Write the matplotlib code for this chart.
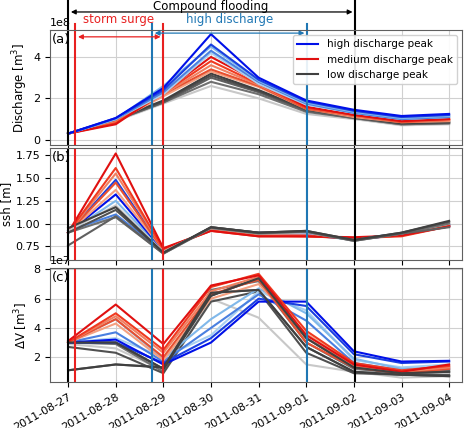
import matplotlib
matplotlib.use("Agg")
import matplotlib.pyplot as plt
import numpy as np

dates = ["2011-08-27","2011-08-28","2011-08-29","2011-08-30","2011-08-31",
         "2011-09-01","2011-09-02","2011-09-03","2011-09-04"]

# Discharge (x1e8 m3)
q_high = [[0.3,1.05,2.5,5.1,3.0,1.9,1.45,1.15,1.25],
          [0.3,1.05,2.4,4.6,2.9,1.85,1.4,1.1,1.2],
          [0.3,1.0,2.6,4.5,2.85,1.8,1.35,1.05,1.15],
          [0.3,1.0,2.3,4.3,2.8,1.75,1.3,1.0,1.1],
          [0.3,1.0,2.2,4.2,2.7,1.7,1.3,1.0,1.1]]
q_med = [[0.3,0.75,2.3,4.0,2.8,1.6,1.2,0.9,1.0],
         [0.3,0.8,2.25,3.8,2.7,1.55,1.2,0.9,1.0],
         [0.3,0.85,2.2,3.6,2.65,1.55,1.15,0.9,0.95],
         [0.3,0.9,2.2,3.4,2.6,1.5,1.15,0.85,0.95],
         [0.3,0.9,2.1,3.3,2.55,1.5,1.1,0.85,0.9]]
q_low = [[0.3,1.0,1.9,3.2,2.4,1.5,1.1,0.8,0.85],
         [0.3,1.0,1.85,3.1,2.35,1.45,1.1,0.8,0.85],
         [0.3,0.95,1.8,3.0,2.3,1.4,1.05,0.75,0.8],
         [0.3,0.95,1.8,2.8,2.2,1.35,1.05,0.75,0.8],
         [0.3,0.9,1.75,2.6,2.0,1.25,1.0,0.7,0.75]]
# ssh (m)
s_high = [[0.9,1.32,0.70,0.94,0.89,0.88,0.83,0.88,0.98],
          [0.9,1.48,0.71,0.93,0.88,0.87,0.83,0.87,0.97],
          [0.9,1.25,0.70,0.94,0.89,0.88,0.82,0.88,0.98],
          [0.92,1.1,0.69,0.95,0.90,0.89,0.83,0.89,0.99],
          [0.92,1.07,0.69,0.95,0.90,0.89,0.83,0.89,0.99]]
s_med = [[0.9,1.77,0.73,0.92,0.86,0.86,0.85,0.87,0.97],
         [0.9,1.61,0.72,0.92,0.86,0.86,0.84,0.86,0.97],
         [0.9,1.55,0.72,0.93,0.87,0.87,0.84,0.87,0.98],
         [0.9,1.45,0.71,0.93,0.87,0.86,0.84,0.87,0.98],
         [0.9,1.37,0.71,0.93,0.87,0.87,0.84,0.87,0.98]]
s_low = [[0.95,1.18,0.68,0.96,0.90,0.92,0.82,0.90,1.03],
         [0.9,1.15,0.68,0.96,0.90,0.92,0.82,0.90,1.02],
         [0.76,1.08,0.67,0.96,0.90,0.91,0.81,0.89,0.96],
         [0.9,1.07,0.67,0.95,0.89,0.91,0.81,0.89,1.0],
         [0.92,1.2,0.69,0.95,0.89,0.90,0.82,0.89,1.0]]
# Delta V (x1e7 m3)
v_high = [[3.0,3.2,1.5,3.0,5.8,5.8,2.4,1.7,1.75],
          [3.0,3.0,1.6,3.3,6.0,5.5,2.2,1.6,1.7],
          [3.0,4.6,1.9,4.6,6.7,5.0,1.9,1.2,1.3],
          [3.0,3.7,1.7,4.0,6.3,4.5,1.6,1.1,1.2],
          [3.0,3.3,2.0,3.5,6.5,5.2,1.8,1.3,1.5]]
v_med = [[3.1,5.6,2.9,6.9,7.6,3.5,1.5,1.0,1.5],
         [3.0,5.0,2.5,6.8,7.7,3.8,1.6,1.1,1.4],
         [3.0,4.8,2.3,6.5,7.5,3.3,1.4,1.0,1.3],
         [3.0,4.6,2.0,6.3,7.3,3.0,1.3,0.9,1.2],
         [3.0,4.3,1.8,6.0,7.0,3.6,1.5,1.0,1.3]]
v_low = [[3.0,3.0,1.2,6.2,7.4,3.3,1.3,0.9,1.0],
         [2.7,2.3,0.9,5.8,6.5,2.3,0.9,0.8,0.8],
         [1.1,1.5,1.3,6.4,6.6,2.7,1.0,0.8,0.7],
         [3.0,2.9,1.0,6.6,7.2,3.0,1.2,0.9,1.1],
         [2.9,2.6,1.1,6.0,4.7,1.5,1.0,0.6,0.7]]

blues = ['#0010e8', '#1a40e0', '#80b8ea', '#4a80e0', '#a8d0f0']
reds = ['#e01010', '#f03a20', '#f08060', '#e85030', '#f5a080']
greys = ['#404040', '#505050', '#606060', '#707070', '#c8c8c8']

x = np.arange(len(dates))
fig = plt.figure(figsize=(4.74, 4.28), dpi=100)
L, W = 50/474, 412/474
def pos(t, b):
    return [L, 1-b/428, W, (b-t)/428]
axa = fig.add_axes(pos(30, 145))
axb = fig.add_axes(pos(148, 260))
axc = fig.add_axes(pos(268, 382))

def draw(ax, groups, scale):
    for data, cols in groups:
        for i in reversed(range(len(data))):
            ax.plot(x, np.array(data[i])*scale, color=cols[i], lw=1.5)

draw(axa, [(q_low, greys), (q_med, reds), (q_high, blues)], 1e8)
draw(axb, [(s_high, blues), (s_med, reds), (s_low, greys)], 1)
draw(axc, [(v_low, greys), (v_high, blues), (v_med, reds)], 1e7)
axc.plot(x, np.array(v_low[0])*1e7, color=greys[0], lw=1.5)
axc.plot(x, np.array(v_low[2])*1e7, color=greys[0], lw=1.5)

vl = [(0, 'black'), (6.03, 'black'), (0.15, '#e82020'), (2.0, '#e82020'),
      (1.76, '#1f77b4'), (5.02, '#1f77b4')]
for ax in (axa, axb, axc):
    ax.set_xlim(-0.38, 8.27)
    ax.grid(True, color='#d0d0d0', lw=0.8)
    ax.set_xticks(x)
    for xv, c in vl:
        ax.axvline(xv, color=c, lw=1.5)
    for s in ax.spines.values():
        s.set_color('#606060')
    ax.tick_params(labelsize=8)
axa.set_xticklabels([]); axb.set_xticklabels([])
axc.set_xticklabels(dates, rotation=30, ha='right', fontsize=8,
                    rotation_mode='anchor')

axa.set_ylim(-0.25e8, 5.3e8)
axa.set_yticks([0, 2e8, 4e8])
axb.set_ylim(0.6, 1.83)
axb.set_yticks([0.75, 1.0, 1.25, 1.5, 1.75])
axc.set_ylim(0.3e7, 8.1e7)
axc.set_yticks([2e7, 4e7, 6e7, 8e7])
axa.set_ylabel('Discharge [m$^3$]', fontsize=8.5, labelpad=2)
axb.set_ylabel('ssh [m]', fontsize=8.5, labelpad=2)
axc.set_ylabel('ΔV [m$^3$]', fontsize=8.5, labelpad=2)
for ax in (axa, axc):
    ax.yaxis.get_offset_text().set_fontsize(8)
for ax, t in ((axa, '(a)'), (axb, '(b)'), (axc, '(c)')):
    ax.text(0.005, 0.97, t, transform=ax.transAxes, va='top', fontsize=9.5)

for xv, c in vl:
    top = 6.75e8 if c == 'black' else 5.6e8
    axa.plot([xv, xv], [5.3e8, top], color=c, lw=1.5, clip_on=False)
axa.annotate('', xy=(0, 6.17e8), xytext=(6.03, 6.17e8), annotation_clip=False,
             arrowprops=dict(arrowstyle='<|-|>', color='black', lw=0.9, mutation_scale=7))
axa.text(3.0, 6.45e8, 'Compound flooding', ha='center', va='center', fontsize=8.5, clip_on=False)
axa.annotate('', xy=(0.15, 4.97e8), xytext=(2.0, 4.97e8), annotation_clip=False,
             arrowprops=dict(arrowstyle='<|-|>', color='#e82020', lw=0.9, mutation_scale=7))
axa.text(1.05, 5.8e8, 'storm surge', ha='center', va='center', fontsize=8.5, color='#e82020')
axa.annotate('', xy=(1.76, 5.15e8), xytext=(5.02, 5.15e8), annotation_clip=False,
             arrowprops=dict(arrowstyle='<|-|>', color='#1f77b4', lw=0.9, mutation_scale=7))
axa.text(3.4, 5.8e8, 'high discharge', ha='center', va='center', fontsize=8.5, color='#1f77b4')

from matplotlib.lines import Line2D
h = [Line2D([], [], color='#0010e8', lw=1.5), Line2D([], [], color='#e01010', lw=1.5),
     Line2D([], [], color='#404040', lw=1.5)]
axa.legend(h, ['high discharge peak', 'medium discharge peak', 'low discharge peak'],
           loc='upper right', fontsize=7.5, framealpha=0.9)

fig.savefig('out.png', dpi=100)
